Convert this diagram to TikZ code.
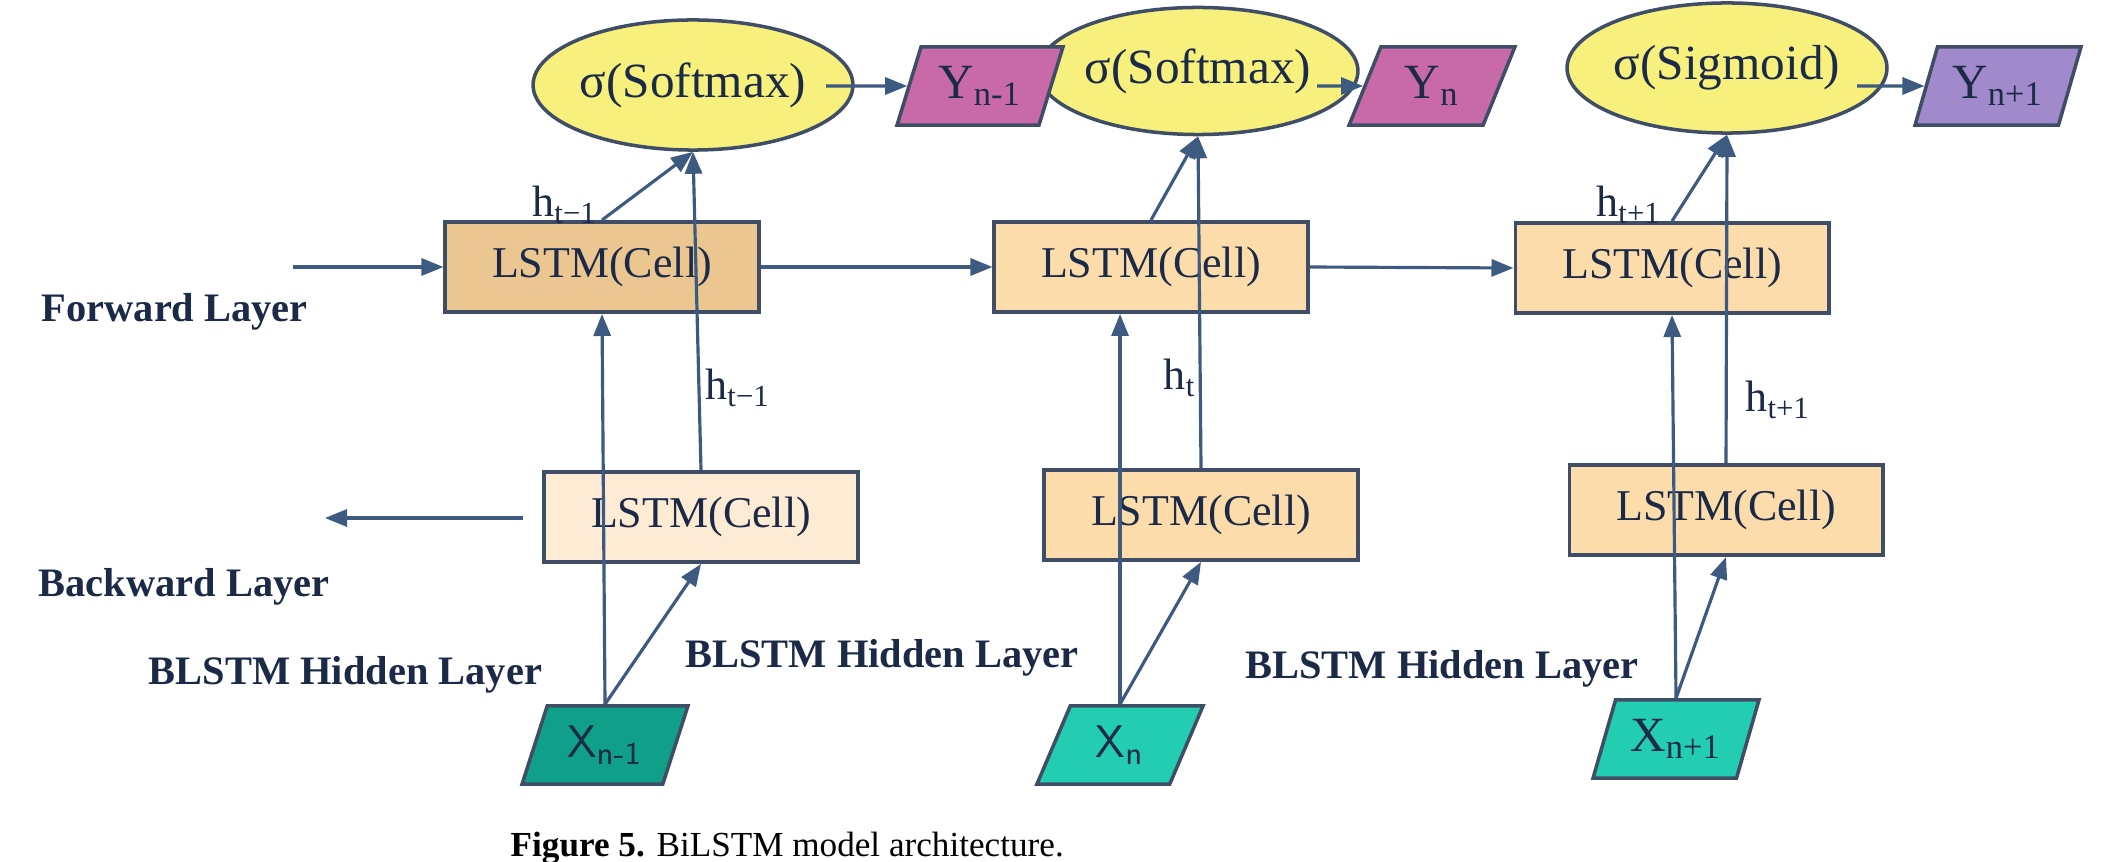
\documentclass[tikz,border=0pt]{standalone}
\usepackage{fontspec}
\setmainfont{Liberation Serif}
\usetikzlibrary{shapes.geometric,arrows.meta}
\definecolor{ln}{HTML}{3D5A80}
\definecolor{bd}{HTML}{3F4E66}
\definecolor{tx}{HTML}{1B2A47}
\definecolor{cellA}{HTML}{EBC690}
\definecolor{cellB}{HTML}{FCDCAA}
\definecolor{cellC}{HTML}{FDEBD3}
\definecolor{ell}{HTML}{F8F07C}
\definecolor{mag}{HTML}{C86AA8}
\definecolor{pur}{HTML}{A08ACB}
\definecolor{tealA}{HTML}{10A08A}
\definecolor{tealB}{HTML}{22CDB2}
\tikzset{
  cell/.style={draw=bd,line width=1.1pt,minimum width=3.13cm,minimum height=0.9cm,inner sep=0pt,text=tx,font=\fontsize{12.5}{14}\selectfont},
  sig/.style={ellipse,draw=bd,line width=1pt,fill=ell,inner sep=0pt,text=tx,font=\fontsize{14}{16}\selectfont},
  para/.style={trapezium,trapezium left angle=67,trapezium right angle=113,trapezium stretches=true,draw=bd,line width=1pt,minimum width=1.66cm,minimum height=0.78cm,inner sep=0pt,text=tx,font=\fontsize{14}{16}\selectfont},
  arr/.style={draw=ln,line width=0.9pt,-{Triangle[length=0.22cm,width=0.17cm]}},
  lbl/.style={text=tx,font=\bfseries\fontsize{11.5}{13}\selectfont,inner sep=0pt},
  hl/.style={text=tx,font=\fontsize{12.5}{14}\selectfont,inner sep=0pt}
}
\begin{document}
\begin{tikzpicture}[x=0.01cm,y=-0.01cm]
\useasboundingbox[fill=white] (0,0) rectangle (2104,861);
% forward cells
\node[cell,fill=cellA] (f1) at (602,267) {LSTM(Cell)};
\node[cell,fill=cellB] (f2) at (1151,267) {LSTM(Cell)};
\node[cell,fill=cellB] (f3) at (1672,268) {LSTM(Cell)};
% backward cells
\node[cell,fill=cellC] (b1) at (701,517) {LSTM(Cell)};
\node[cell,fill=cellB] (b2) at (1201,515) {LSTM(Cell)};
\node[cell,fill=cellB] (b3) at (1726,510) {LSTM(Cell)};
% outputs
\node[sig,minimum width=2.5cm,minimum height=1.3cm] (s1) at (693,85) {σ(Softmax)};
\node[sig,minimum width=2.37cm,minimum height=1.27cm] (s2) at (1198,71) {σ(Softmax)};
\node[sig,minimum width=2.59cm,minimum height=1.3cm] (s3) at (1727,68) {σ(Sigmoid)};
\node[para,fill=mag] (y1) at (980,86) {Y\textsubscript{n-1}};
\node[para,fill=mag] (y2) at (1432,86) {Y\textsubscript{n}};
\node[para,fill=pur] (y3) at (1998,86) {Y\textsubscript{n+1}};
% inputs
\node[para,fill=tealA,font=\sffamily\fontsize{13}{15}\selectfont] (x1) at (605,745) {X\textsubscript{n-1}};
\node[para,fill=tealB,font=\sffamily\fontsize{13}{15}\selectfont] (x2) at (1120,745) {X\textsubscript{n}};
\node[para,fill=tealB] (x3) at (1676,739) {X\textsubscript{n+1}};
% side coordinates
\coordinate (fin) at (293,267);
\coordinate (bout) at (325,518);
\coordinate (bstart) at (523,518);
\coordinate (o1) at (826,86);
\coordinate (o2) at (1317,86);
\coordinate (o3) at (1857,86);
% forward chain
\draw[arr] (fin) -- (f1.west);
\draw[arr] (f1.east) -- (f2.west);
\draw[arr] (f2.east) -- (f3.west);
\draw[arr] (bstart) -- (bout);
% outputs
\draw[arr] (o1) -- (y1.west);
\draw[arr] (o2) -- (y2.west);
\draw[arr] (o3) -- (y3.west);
% column 1
\draw[arr] (x1.north) -- (f1.south);
\draw[arr] (x1.north) -- (b1.south);
\draw[arr] (b1.north) -- (s1.south);
\draw[arr] (f1.north) -- (s1.south);
% column 2
\draw[arr] (x2.north) -- (x2.north |- f2.south);
\draw[arr] (x2.north) -- (b2.south);
\draw[arr] (b2.north) -- (s2.south);
\draw[arr] (f2.north) -- (s2.south);
% column 3
\draw[arr] (x3.north) -- (f3.south);
\draw[arr] (x3.north) -- (b3.south);
\draw[arr] (b3.north) -- (s3.south);
\draw[arr] (f3.north) -- (s3.south);
% h labels
\node[hl] (h1) at (565,205) {h\textsubscript{t−1}};
\node[hl] (h2) at (738,388) {h\textsubscript{t−1}};
\node[hl] (h3) at (1180,378) {h\textsubscript{t}};
\node[hl] (h4) at (1629,205) {h\textsubscript{t+1}};
\node[hl] (h5) at (1778,400) {h\textsubscript{t+1}};
% layer labels
\node[lbl,anchor=west] (fl) at (41,312) {Forward Layer};
\node[lbl,anchor=west] (bl) at (38,587) {Backward Layer};
\node[lbl,anchor=west] (hl1) at (148,675) {BLSTM Hidden Layer};
\node[lbl] (hl2) at (882,658) {BLSTM Hidden Layer};
\node[lbl] (hl3) at (1442,669) {BLSTM Hidden Layer};
% caption
\node[anchor=base west,inner sep=0pt,font=\fontsize{10}{12}\selectfont] (cap) at (510,856) {\textbf{Figure 5.} BiLSTM model architecture.};
\end{tikzpicture}
\end{document}
